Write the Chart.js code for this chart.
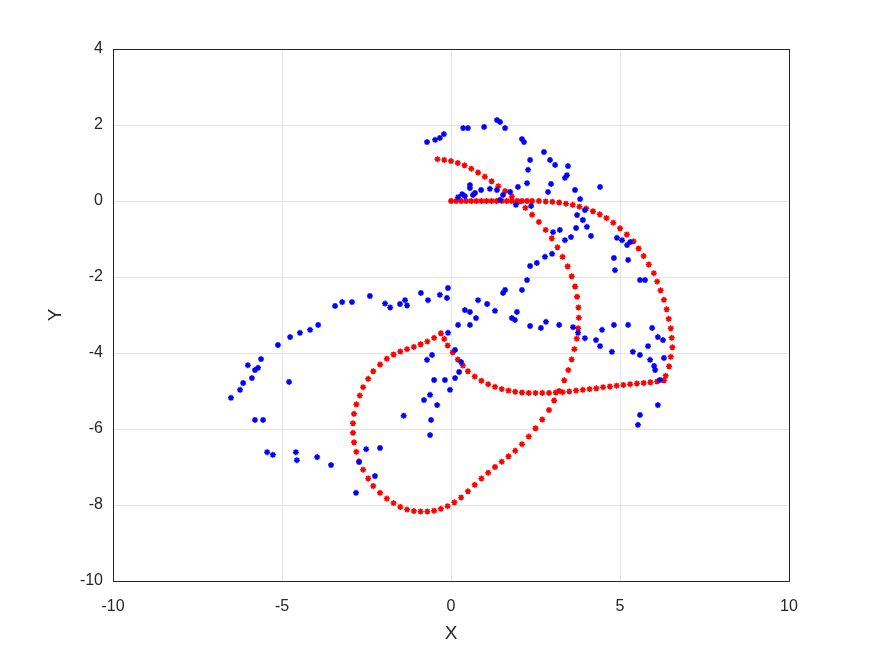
<!DOCTYPE html>
<html><head><script src="https://cdn.jsdelivr.net/npm/chart.js@4"></script>
<style>body{margin:0}#w{width:872px;height:654px}</style></head>
<body><div id="w"><canvas id="c"></canvas></div>
<script>
const blueX=[-0.71,-0.47,-0.33,-0.21,0.36,0.5,0.98,1.36,1.45,1.6,2.1,2.16,2.34,2.75,2.93,3.08,3.46,3.43,3.37,2.96,2.87,2.28,2.25,1.98,1.75,1.54,1.36,1.15,0.89,0.71,0.56,0.41,0.56,0.21,0.33,0.65,1.45,1.92,2.37,3.67,3.82,3.96,3.73,3.9,4.02,4.41,3.7,3.22,3.02,3.55,3.37,4.14,4.91,5.06,5.21,5.3,4.82,4.85,5.59,5.24,5.74,2.54,2.34,2.78,2.99,2.25,2.1,1.6,1.54,1.95,1.8,1.89,2.34,2.66,2.81,3.2,3.61,3.76,3.96,4.29,4.47,4.41,4.76,4.82,5.24,5.38,5.59,5.95,6.12,5.83,5.89,6.01,6.04,6.18,6.12,5.59,5.53,6.27,6.3,0.74,0.56,0.41,0.21,0.56,1.07,1.3,0.8,-0.09,-0.33,-0.12,-0.89,-0.68,-1.36,-1.51,-0.09,0.12,-0.56,-0.71,-0.5,-0.62,-0.8,-0.41,-0.59,-0.62,-0.18,-0.03,0.12,0.24,0.3,-2.4,-2.93,-3.22,-3.43,-3.93,-4.17,-4.47,-4.76,-5.12,-5.62,-5.8,-6.01,-6.15,-6.24,-6.51,-5.71,-5.89,-4.79,-5.8,-5.56,-5.44,-5.27,-4.59,-4.56,-3.96,-3.55,-2.81,-2.72,-2.51,-2.1,-2.25,-1.4,-1.8,-1.95,-1.3];
const blueY=[1.55,1.61,1.66,1.76,1.92,1.92,1.95,2.13,2.08,1.92,1.63,1.55,1.08,1.29,1.08,0.95,0.92,0.68,0.61,0.45,0.24,0.82,0.47,0.37,0.24,0.16,0.29,0.32,0.29,0.21,0.34,0.13,0.42,0.1,0.18,0.16,0.03,-0.1,-0.13,0.29,0.05,-0.24,-0.37,-0.5,-0.68,0.37,-0.71,-0.76,-0.82,-0.95,-1.03,-0.92,-0.97,-1.03,-1.16,-1.08,-1.5,-1.82,-2.08,-1.55,-2.08,-1.63,-1.71,-1.47,-1.39,-2.08,-2.34,-2.34,-2.42,-2.92,-3.08,-3.13,-3.29,-3.34,-3.18,-3.26,-3.32,-3.47,-3.61,-3.66,-3.39,-3.82,-3.97,-3.26,-3.26,-3.97,-4.05,-3.34,-3.58,-3.82,-4.18,-4.34,-4.45,-4.71,-5.37,-5.63,-5.89,-3.66,-4.13,-3.08,-2.92,-2.87,-3.26,-3.26,-2.71,-2.89,-2.61,-2.29,-2.47,-2.55,-2.42,-2.61,-2.61,-2.71,-3.47,-3.92,-4.05,-4.18,-4.71,-5.1,-5.24,-5.37,-5.76,-6.16,-4.71,-4.97,-4.66,-4.5,-4.24,-2.5,-2.66,-2.66,-2.76,-3.26,-3.39,-3.47,-3.58,-3.79,-4.16,-4.45,-4.32,-4.79,-4.97,-5.18,-4.39,-4.66,-4.76,-5.76,-5.76,-6.61,-6.68,-6.61,-6.82,-6.74,-6.95,-7.68,-6.87,-6.53,-6.5,-7.24,-5.65,-2.8,-2.7,-2.75];
const redX=[0,0.15,0.3,0.45,0.6,0.75,0.9,1.05,1.2,1.35,1.5,1.65,1.8,1.95,2.1,2.25,2.4,2.6,2.8,3.0,3.2,3.4,3.6,3.8,4.0,4.2,4.4,4.6,4.8,5.0,5.2,5.4,5.55,5.7,5.85,6.0,6.1,6.2,6.3,6.38,6.44,6.5,6.53,6.55,6.5,6.45,6.35,6.3,6.1,5.9,5.7,5.5,5.3,5.1,4.9,4.7,4.5,4.3,4.1,3.9,3.7,3.5,3.3,3.1,2.9,2.7,2.5,2.3,2.1,1.9,1.7,1.5,1.3,1.1,0.9,0.7,0.5,0.35,0.2,0.05,-0.1,-0.2,-0.3,-0.5,-0.7,-0.9,-1.1,-1.3,-1.5,-1.7,-1.9,-2.1,-2.3,-2.45,-2.6,-2.7,-2.8,-2.87,-2.9,-2.9,-2.87,-2.8,-2.72,-2.6,-2.45,-2.3,-2.1,-1.9,-1.7,-1.5,-1.3,-1.1,-0.9,-0.7,-0.5,-0.3,-0.1,0.1,0.3,0.5,0.7,0.9,1.1,1.3,1.5,1.7,1.9,2.1,2.3,2.5,2.7,2.9,3.05,3.2,3.35,3.47,3.57,3.65,3.72,3.76,3.78,3.77,3.73,3.67,3.57,3.45,3.3,3.15,2.98,2.8,2.6,2.4,2.2,2.0,1.8,1.6,1.4,1.2,1.0,0.8,0.6,0.4,0.2,0,-0.2,-0.4];
const redY=[0,0,0,0,0,0,0,0,0,0,0,0,0,0,0,0,0,0,-0.01,-0.02,-0.04,-0.07,-0.1,-0.15,-0.2,-0.27,-0.35,-0.45,-0.57,-0.72,-0.88,-1.06,-1.25,-1.45,-1.67,-1.9,-2.12,-2.35,-2.6,-2.85,-3.1,-3.35,-3.6,-3.85,-4.1,-4.35,-4.6,-4.72,-4.75,-4.77,-4.79,-4.8,-4.82,-4.84,-4.86,-4.88,-4.9,-4.93,-4.95,-4.97,-4.99,-5.01,-5.03,-5.04,-5.05,-5.05,-5.05,-5.05,-5.04,-5.02,-4.99,-4.95,-4.89,-4.82,-4.73,-4.62,-4.48,-4.33,-4.17,-3.98,-3.8,-3.63,-3.48,-3.6,-3.7,-3.77,-3.84,-3.9,-3.96,-4.04,-4.15,-4.3,-4.48,-4.68,-4.9,-5.12,-5.35,-5.6,-5.85,-6.1,-6.35,-6.6,-6.85,-7.07,-7.3,-7.5,-7.68,-7.83,-7.95,-8.05,-8.12,-8.16,-8.17,-8.17,-8.15,-8.1,-8.03,-7.93,-7.8,-7.64,-7.47,-7.3,-7.15,-7.0,-6.86,-6.72,-6.57,-6.4,-6.2,-5.98,-5.75,-5.5,-5.25,-5.0,-4.72,-4.45,-4.17,-3.9,-3.62,-3.35,-3.07,-2.8,-2.52,-2.25,-1.98,-1.72,-1.47,-1.22,-0.98,-0.76,-0.55,-0.36,-0.18,-0.02,0.12,0.26,0.39,0.52,0.64,0.75,0.85,0.94,1.0,1.05,1.08,1.1];
const xTicks=[-10,-5,0,5,10];
const yTicks=[-10,-8,-6,-4,-2,0,2,4];
const toPts=(xs,ys)=>xs.map((x,i)=>({x,y:ys[i]}));
const boxPlugin={id:'box',afterDraw(c){const a=c.chartArea,g=c.ctx;g.save();g.strokeStyle='#262626';g.lineWidth=1;g.strokeRect(a.left+0.5,a.top+0.5,a.right-a.left,a.bottom-a.top);g.restore();}};
const tickFont={family:'Liberation Sans, Arial, sans-serif',size:16};
const titleFont={family:'Liberation Sans, Arial, sans-serif',size:19};
new Chart(document.getElementById('c'),{
 type:'scatter',
 data:{datasets:[
  {data:toPts(blueX,blueY),pointStyle:'star',radius:3,borderColor:'#0000ff',backgroundColor:'#0000ff',borderWidth:1.5},
  {data:toPts(redX,redY),pointStyle:'star',radius:3,borderColor:'#ff0000',backgroundColor:'#ff0000',borderWidth:1.5}
 ]},
 plugins:[boxPlugin],
 options:{responsive:true,maintainAspectRatio:false,animation:false,
  layout:{padding:{left:44,right:83,top:49,bottom:9}},
  plugins:{legend:{display:false},tooltip:{enabled:false}},
  scales:{
   x:{type:'linear',min:-10,max:10,afterBuildTicks(s){s.ticks=xTicks.map(v=>({value:v}));},
    afterFit(s){s.height=64;},
    grid:{color:'#e5e5e5',drawTicks:false},border:{color:'#262626'},
    ticks:{font:tickFont,color:'#262626',padding:16,maxRotation:0},
    title:{display:true,text:'X',font:titleFont,color:'#262626',padding:0}},
   y:{type:'linear',min:-10,max:4,afterBuildTicks(s){s.ticks=yTicks.map(v=>({value:v}));},
    afterFit(s){s.width=69;},
    grid:{color:'#e5e5e5',drawTicks:false},border:{color:'#262626'},
    ticks:{font:tickFont,color:'#262626',padding:10},
    title:{display:true,text:'Y',font:titleFont,color:'#262626',padding:0}}
  }}
});
</script></body></html>
